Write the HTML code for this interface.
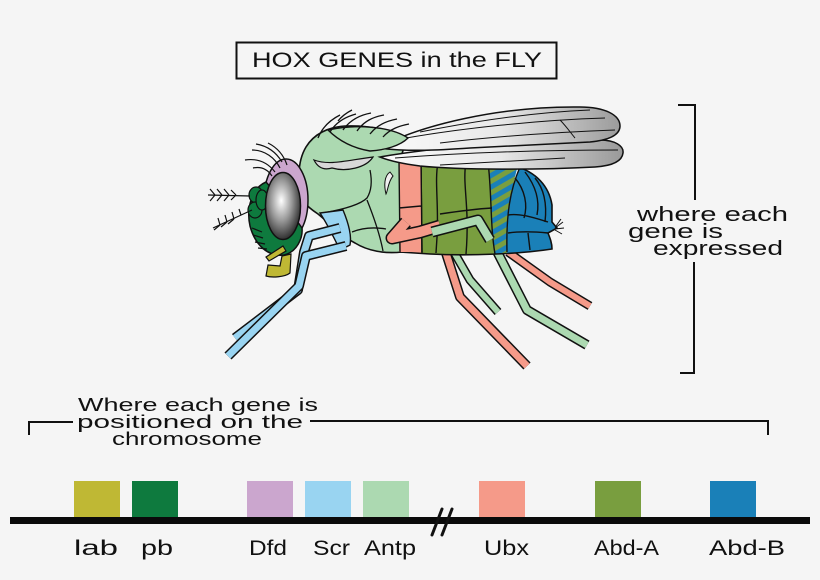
<!DOCTYPE html>
<html><head><meta charset="utf-8"><style>
html,body{margin:0;padding:0;background:#f5f5f5;}
svg{display:block;}
text{font-family:"Liberation Sans",sans-serif;fill:#111;}
</style></head><body>
<svg width="820" height="580" viewBox="0 0 820 580" xmlns="http://www.w3.org/2000/svg">
<defs>
<linearGradient id="wg" x1="380" y1="0" x2="622" y2="0" gradientUnits="userSpaceOnUse">
<stop offset="0" stop-color="#fbfbfb"/><stop offset="0.5" stop-color="#e8e8e8"/><stop offset="1" stop-color="#9a9a9a"/>
</linearGradient>
<radialGradient id="eg" cx="0.45" cy="0.42" r="0.6">
<stop offset="0" stop-color="#ffffff"/><stop offset="0.5" stop-color="#9a9a9a"/><stop offset="1" stop-color="#2a2a2a"/>
</radialGradient>
<pattern id="st" width="10" height="10" patternUnits="userSpaceOnUse" patternTransform="rotate(-30)">
<rect width="10" height="10" fill="#1a80b8"/><rect width="10" height="5" fill="#799e3f"/>
</pattern>
<clipPath id="abc"><path d="M 398 160 C 440 157, 490 160, 515 166 C 536 172, 549 186, 552 205 L 552 222 L 557 228 L 548 233 C 550 238, 552 243, 552 249 C 520 254, 470 256, 430 254 L 400 252 Z"/></clipPath>
</defs>
<rect width="820" height="580" fill="#f5f5f5"/>

<!-- title -->
<rect x="236.5" y="42.5" width="320" height="36" fill="none" stroke="#111" stroke-width="2"/>
<text x="252" y="67" font-size="21" textLength="290" lengthAdjust="spacingAndGlyphs">HOX GENES in the FLY</text>

<!-- back legs -->
<g stroke-linecap="butt" stroke-linejoin="round" fill="none">
<polyline points="508,252 550,282 590,306" stroke="#111" stroke-width="9"/>
<polyline points="508,252 550,282 590,306" stroke="#f59a89" stroke-width="6"/>
<polyline points="447,240 470,280 498,312" stroke="#111" stroke-width="9"/>
<polyline points="447,240 470,280 498,312" stroke="#acd9b1" stroke-width="6"/>
<polyline points="485,228 527,310 587,345" stroke="#111" stroke-width="10"/>
<polyline points="485,228 527,310 587,345" stroke="#acd9b1" stroke-width="7"/>
<polyline points="438,228 460,297 527,366" stroke="#111" stroke-width="10"/>
<polyline points="438,228 460,297 527,366" stroke="#f59a89" stroke-width="7"/>
</g>

<!-- abdomen -->
<g clip-path="url(#abc)">
<rect x="390" y="150" width="32" height="110" fill="#f59a89"/>
<rect x="421" y="150" width="80" height="110" fill="#799e3f"/>
<path d="M 488 150 L 522 150 C 512 185, 506 215, 507 260 L 495 260 C 490 230, 492 195, 488 150 Z" fill="url(#st)"/>
<path d="M 520 150 L 570 150 L 570 260 L 507 260 C 506 215, 512 185, 520 165 Z" fill="#1a80b8"/>
</g>
<g fill="none" stroke="#111" stroke-width="1.4">
<path d="M 421 160 L 422 253"/>
<path d="M 399 208 L 421 206"/>
<path d="M 438 162 C 434 185, 440 205, 436 253"/>
<path d="M 466 162 C 462 185, 470 205, 466 254"/>
<path d="M 440 214 C 460 211, 475 209, 492 208"/>
<path d="M 488 162 C 492 195, 490 225, 495 254"/>
<path d="M 520 167 C 510 190, 506 215, 507 252"/>
<path d="M 525 172 C 535 185, 540 200, 537 215"/>
<path d="M 535 178 C 545 190, 547 205, 545 222"/>
<path d="M 515 178 C 525 190, 528 205, 524 218"/>
<path d="M 508 215 C 520 213, 535 218, 548 222"/>
<path d="M 508 233 C 522 231, 538 232, 548 233"/>
<path d="M 528 233 L 530 250"/>
</g>
<path d="M 398 160 C 440 157, 490 160, 515 166 C 536 172, 549 186, 552 205 L 552 222 L 557 228 L 548 233 C 550 238, 552 243, 552 249 C 520 254, 470 256, 430 254 L 400 252 Z" fill="none" stroke="#111" stroke-width="1.6"/>
<g stroke="#111" stroke-width="1"><path d="M 555 228 L 563 222 M 555 229 L 564 228 M 555 230 L 562 234 M 556 226 L 561 219"/></g>

<!-- thorax -->
<path d="M 304 202 C 297 185, 297 162, 306 147 C 314 134, 328 127, 345 126 C 370 125, 392 130, 406 141 L 400 160 L 402 252 C 385 254, 368 251, 355 243 C 340 235, 328 222, 318 214 C 312 210, 307 206, 304 202 Z" fill="#acd9b1" stroke="#111" stroke-width="1.6"/>
<rect x="399" y="160" width="22" height="92" fill="#f59a89"/>
<path d="M 399 160 L 400 252 M 421 160 L 422 252 M 399 208 L 421 206" stroke="#111" stroke-width="1.4" fill="none"/>

<!-- wings -->
<path d="M 380 157 C 430 148, 520 140, 600 140 C 615 140, 624 146, 623 153 C 622 162, 610 166, 595 167 C 540 170, 460 170, 420 166 C 405 164, 390 161, 380 157 Z" fill="url(#wg)" stroke="#111" stroke-width="1.5"/>
<path d="M 378 148 C 420 125, 500 106, 580 107 C 605 107, 620 115, 620 126 C 620 135, 610 140, 590 142 L 470 148 C 440 150, 410 152, 378 148 Z" fill="url(#wg)" stroke="#111" stroke-width="1.5"/>
<g fill="none" stroke="#111" stroke-width="1">
<path d="M 395 140 C 460 128, 540 120, 605 118"/>
<path d="M 420 132 C 480 120, 540 112, 590 110"/>
<path d="M 440 143 C 500 136, 560 132, 615 130"/>
<path d="M 560 120 C 566 126, 570 132, 575 138"/>
<path d="M 395 158 C 460 153, 540 150, 618 150"/>
<path d="M 440 165 C 490 162, 530 160, 565 158"/>
</g>

<!-- thorax lobe over wing -->
<path d="M 328 130 C 355 124, 390 126, 408 138 C 400 146, 385 150, 370 151 C 352 148, 338 140, 328 130 Z" fill="#acd9b1" stroke="#111" stroke-width="1.4"/>
<g fill="none" stroke="#111" stroke-width="1.3">
<path d="M 318 138 C 322 128, 330 120, 340 115"/>
<path d="M 330 132 C 336 122, 345 117, 356 114"/>
<path d="M 343 130 C 350 120, 360 115, 371 113"/>
<path d="M 357 131 C 364 121, 373 117, 384 115"/>
<path d="M 370 134 C 377 125, 386 121, 397 119"/>
<path d="M 383 137 C 390 129, 399 126, 409 124"/>
<path d="M 338 121 C 342 116, 348 112, 352 110"/>
<path d="M 323 213 C 340 210, 360 205, 367 198 C 372 190, 372 180, 370 170"/>
<path d="M 367 200 C 375 220, 380 235, 383 251"/>
<path d="M 352 232 C 362 228, 374 227, 386 229"/>
</g>
<path d="M 314 160 C 330 166, 348 160, 373 157 C 366 168, 346 172, 332 168 C 322 171, 317 166, 314 160 Z" fill="#d8d8d8" stroke="#111" stroke-width="1.2"/>
<path d="M 390 172 C 384 176, 384 186, 386 194 C 388 190, 388 182, 393 176 Z" fill="#f0f0f0" stroke="#111" stroke-width="1"/>

<!-- pink & green femurs over body -->
<g stroke-linecap="butt" stroke-linejoin="round" fill="none">
<polyline points="406,222 392,238 420,232 440,226" stroke="#111" stroke-width="13"/>
<polyline points="406,222 392,238 420,232 440,226" stroke="#f59a89" stroke-width="10"/>
<polyline points="432,232 478,220 490,240" stroke="#111" stroke-width="11"/>
<polyline points="432,232 478,220 490,240" stroke="#acd9b1" stroke-width="8"/>
</g>

<!-- head -->
<ellipse cx="286" cy="200" rx="22" ry="41" fill="#cba6ce" stroke="#111" stroke-width="1.5"/>
<path d="M 266 182 C 252 188, 246 208, 250 226 C 255 245, 268 257, 284 255 C 297 252, 303 238, 302 228 L 282 200 Z" fill="#0e7a3e" stroke="#111" stroke-width="1.5"/>
<g fill="#0e7a3e" stroke="#111" stroke-width="1.2">
<ellipse cx="256" cy="195" rx="7" ry="8"/><ellipse cx="255" cy="210" rx="7" ry="8"/><ellipse cx="262" cy="200" rx="6" ry="10"/>
</g>
<ellipse cx="283" cy="206" rx="17.5" ry="33.5" fill="url(#eg)" stroke="#111" stroke-width="1.5"/>
<path d="M 266 257 L 283 246 L 286 251 L 269 261 Z" fill="#bfb834" stroke="#111" stroke-width="1.2"/>
<path d="M 268 265 L 280 266 L 282 256 L 291 254 L 290 273 C 285 277, 272 278, 266 276 Z" fill="#bfb834" stroke="#111" stroke-width="1.2"/>
<g fill="none" stroke="#111" stroke-width="1.2">
<path d="M 252 150 C 265 150, 275 158, 280 168"/>
<path d="M 245 160 C 258 158, 268 163, 275 172"/>
<path d="M 268 143 C 278 148, 284 156, 287 165"/>
<path d="M 256 144 C 268 146, 276 152, 282 162"/>
<path d="M 253 168 C 262 166, 268 170, 272 176"/>
<path d="M 252 228 L 262 232 M 253 235 L 263 238 M 255 242 L 265 244 M 258 248 L 267 249"/>
<path d="M 250 196 L 208 195"/>
<path d="M 215 195 L 210 189 M 215 195 L 210 201 M 222 195 L 217 189 M 222 195 L 217 201 M 229 195 L 224 189 M 229 195 L 224 201 M 236 195 L 231 190 M 236 195 L 231 200"/>
<path d="M 252 210 L 213 228"/>
<path d="M 220 225 L 218 218 M 220 225 L 214 230 M 227 222 L 225 215 M 227 222 L 221 227 M 234 219 L 232 212 M 234 219 L 228 224 M 241 215 L 239 209"/>
</g>

<!-- front blue legs -->
<path d="M 320 213 L 343 210 C 348 222, 352 235, 350 245 L 340 250 C 335 240, 328 225, 320 213 Z" fill="#99d4f1" stroke="#111" stroke-width="1.4"/>
<g stroke-linecap="butt" stroke-linejoin="round" fill="none">
<polyline points="340,228 309,236 304,252 298,290 235,338" stroke="#111" stroke-width="10"/>
<polyline points="340,228 309,236 304,252 298,290 235,338" stroke="#99d4f1" stroke-width="7"/>
<polyline points="346,246 306,256 299,286 228,356" stroke="#111" stroke-width="10"/>
<polyline points="346,246 306,256 299,286 228,356" stroke="#99d4f1" stroke-width="7"/>
</g>

<!-- right bracket -->
<g fill="none" stroke="#111" stroke-width="2">
<path d="M 678 105 L 695 105 L 695 200"/>
<path d="M 694 262 L 694 373 L 680 373"/>
</g>
<text x="637" y="221" font-size="20" textLength="151" lengthAdjust="spacingAndGlyphs">where each</text>
<text x="628" y="238" font-size="20" textLength="95" lengthAdjust="spacingAndGlyphs">gene is</text>
<text x="653" y="255" font-size="20" textLength="130" lengthAdjust="spacingAndGlyphs">expressed</text>

<!-- bottom bracket -->
<g fill="none" stroke="#111" stroke-width="2">
<path d="M 29 435 L 29 422 L 73 422"/>
<path d="M 310 421 L 768 421 L 768 435"/>
</g>
<text x="78" y="411" font-size="18" textLength="240" lengthAdjust="spacingAndGlyphs">Where each gene is</text>
<text x="77" y="428" font-size="18" textLength="226" lengthAdjust="spacingAndGlyphs">positioned on the</text>
<text x="112" y="445" font-size="18" textLength="150" lengthAdjust="spacingAndGlyphs">chromosome</text>

<!-- chromosome -->
<rect x="74" y="481" width="46" height="37" fill="#bfb834"/>
<rect x="132" y="481" width="46" height="37" fill="#0e7a3e"/>
<rect x="247" y="481" width="46" height="37" fill="#cba6ce"/>
<rect x="305" y="481" width="46" height="37" fill="#99d4f1"/>
<rect x="363" y="481" width="46" height="37" fill="#acd9b1"/>
<rect x="479" y="481" width="46" height="37" fill="#f59a89"/>
<rect x="595" y="481" width="46" height="37" fill="#799e3f"/>
<rect x="710" y="481" width="46" height="37" fill="#1a80b8"/>
<rect x="10" y="517" width="800" height="7" fill="#0a0a0a"/>
<g stroke="#111" stroke-width="3" stroke-linecap="round">
<path d="M 432 535 L 442 509"/><path d="M 442 535 L 452 509"/>
</g>
<g font-size="21">
<text x="74" y="555" textLength="44" lengthAdjust="spacingAndGlyphs">lab</text>
<text x="141" y="555" textLength="32" lengthAdjust="spacingAndGlyphs">pb</text>
<text x="249" y="555" textLength="38" lengthAdjust="spacingAndGlyphs">Dfd</text>
<text x="313" y="555" textLength="37" lengthAdjust="spacingAndGlyphs">Scr</text>
<text x="364" y="555" textLength="52" lengthAdjust="spacingAndGlyphs">Antp</text>
<text x="484" y="555" textLength="45" lengthAdjust="spacingAndGlyphs">Ubx</text>
<text x="594" y="555" textLength="65" lengthAdjust="spacingAndGlyphs">Abd-A</text>
<text x="709" y="555" textLength="76" lengthAdjust="spacingAndGlyphs">Abd-B</text>
</g>
</svg>
</body></html>
